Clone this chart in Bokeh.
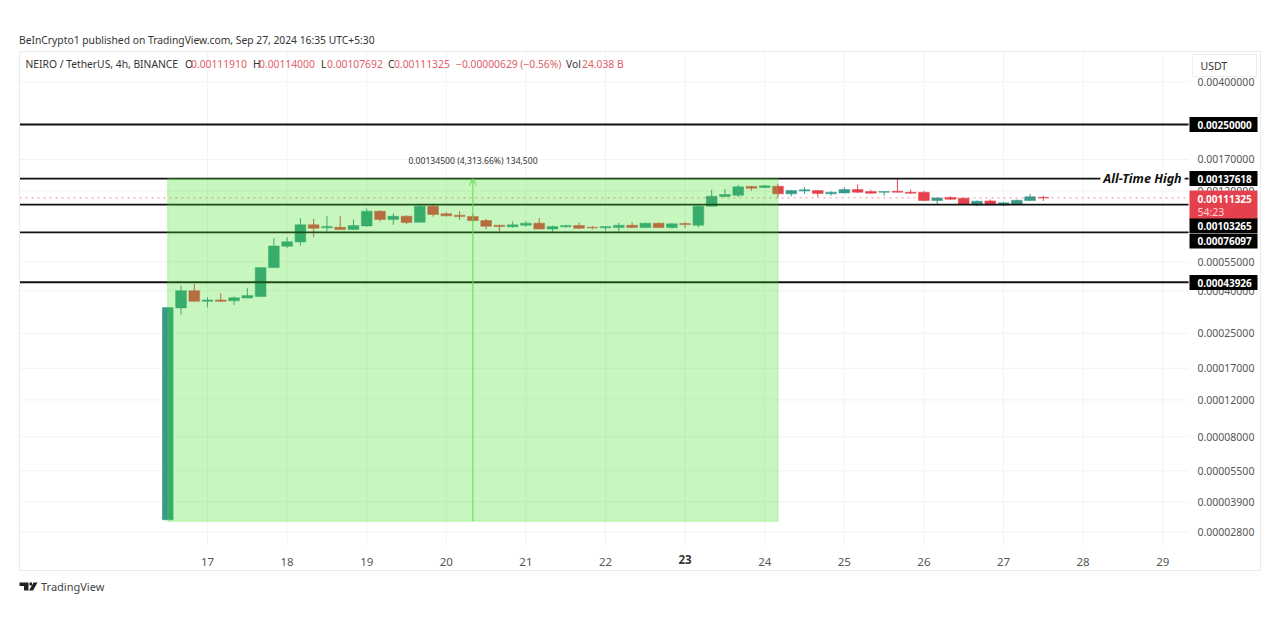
from bokeh.embed import file_html
from bokeh.resources import INLINE
from bokeh.plotting import figure
from bokeh.models import (ColumnDataSource, FixedTicker, PrintfTickFormatter, Range1d, Label, LinearAxis, LogAxis,
                          BoxAnnotation, PolyAnnotation, Arrow, OpenHead)

# ---- data (prices in millionths of a USDT, one 4h candle per entry) ----
opens = [32,331,400,356,361,358,369,375,516,653,685,827,800,805,785,817,961,877,909,851,1015,934,919,906,867,823,809,823,842,790,809,820,805,800,802,823,802,842,802,839,823,1015,1130,1146,1261,1248,1265,1164,1202,1206,1164,1176,1220,1193,1185,1197,1185,1185,1081,1118,1109,1031,1077,1031,1038,1081,1119]
highs = [332,423,432,372,389,375,412,516,713,721,890,884,909,909,877,990,971,940,919,1042,1042,950,961,937,884,829,858,860,890,820,827,848,817,814,845,851,848,848,842,851,1023,1216,1229,1284,1271,1285,1298,1216,1252,1216,1197,1248,1289,1216,1193,1372,1220,1202,1121,1133,1118,1081,1093,1061,1093,1164,1140]
lows = [32,307,354,333,352,342,369,373,516,641,660,721,770,785,785,809,858,827,836,851,906,909,874,858,787,768,800,811,787,768,802,790,787,773,770,800,798,798,793,800,805,1012,1122,1122,1206,1243,1118,1133,1164,1126,1142,1168,1176,1164,1142,1180,1164,1077,1038,1089,1031,1015,1029,1015,1035,1077,1077]
closes = [332,400,356,361,356,370,379,516,655,687,827,796,811,785,820,961,877,909,848,1015,927,913,906,867,814,811,827,842,790,811,820,796,800,811,823,802,842,802,836,829,1015,1133,1155,1257,1238,1271,1164,1206,1216,1168,1185,1220,1185,1172,1193,1185,1172,1081,1113,1097,1038,1073,1031,1054,1085,1126,1113]

first_day = 16.5
bars_per_day = 6
day_ticks = [17, 18, 19, 20, 21, 22, 23, 24, 25, 26, 27, 28, 29]
price_ticks = [0.004, 0.0017, 0.0012, 0.00055, 0.0004, 0.00025, 0.00017, 0.00012, 0.00008, 0.000055, 0.000039, 0.000028]
level_prices = [0.0025, 0.00137618, 0.00103265, 0.00076097, 0.00043926]
level_labels = ["0.00250000", "0.00137618", "0.00103265", "0.00076097", "0.00043926"]
last_price = 0.00111325
zone_top = 0.00137618
zone_bottom = 0.0000315
zone_start = 16.5
zone_end = 24.167

UP, DOWN = "#36998a", "#e5404d"
FONT = "Noto Sans"
TXT = "#555555"
GRID = "#f3f3f3"

W, H = 1272, 616
XMIN, XMAX = 14.399, 30.379       # whole canvas
YMIN, YMAX = 0.00001102, 0.00981
X0, X1 = 14.638, 29.324           # chart pane
Y0, Y1 = 0.0000241, 0.00559

p = figure(width=W, height=H, output_backend="svg", toolbar_location=None,
           y_axis_type="log", x_axis_location=None, y_axis_location=None,
           x_range=Range1d(XMIN, XMAX), y_range=Range1d(YMIN, YMAX),
           min_border=0)
p.outline_line_color = None
p.background_fill_color = "white"
p.border_fill_color = "white"
p.center = []

# grid lines, limited to the chart pane
p.segment(x0=day_ticks, x1=day_ticks, y0=[Y0] * len(day_ticks), y1=[Y1] * len(day_ticks), line_color=GRID, line_width=1)
p.segment(x0=[X0] * len(price_ticks), x1=[X1] * len(price_ticks), y0=price_ticks, y1=price_ticks, line_color=GRID, line_width=1)

xax = LinearAxis(fixed_location=Y0, ticker=FixedTicker(ticks=day_ticks),
                 major_label_overrides={23: " "}, major_label_standoff=8)
yax = LogAxis(fixed_location=X1, ticker=FixedTicker(ticks=price_ticks),
              formatter=PrintfTickFormatter(format="%.8f"), major_label_standoff=9)
for ax, size, side in ((xax, "11.5px", "below"), (yax, "10.5px", "right")):
    ax.axis_line_color = None
    ax.major_tick_line_color = None
    ax.minor_tick_line_color = None
    ax.major_tick_in = 0
    ax.major_tick_out = 0
    ax.major_label_text_color = TXT
    ax.major_label_text_font = FONT
    ax.major_label_text_font_size = size
    p.add_layout(ax, side)

# candles
n = len(opens)
src = ColumnDataSource(dict(
    x=[first_day + i / bars_per_day for i in range(n)],
    o=[v / 1e6 for v in opens], h=[v / 1e6 for v in highs],
    l=[v / 1e6 for v in lows], c=[v / 1e6 for v in closes],
    col=[UP if c >= o else DOWN for o, c in zip(opens, closes)],
))
src.data["top"] = [max(a, b) for a, b in zip(src.data["o"], src.data["c"])]
src.data["bot"] = [min(a, b) for a, b in zip(src.data["o"], src.data["c"])]
p.segment("x", "h", "x", "l", source=src, line_color="col", line_width=1)
p.vbar("x", width=0.135, top="top", bottom="bot", source=src, fill_color="col", line_color="col", line_width=0.5)

# levels
p.segment(x0=[X0] * 5, x1=[X1] * 5, y0=level_prices, y1=level_prices, line_color="#111111", line_width=1.8)

# last price line
p.segment(x0=[X0], x1=[X1], y0=[last_price], y1=[last_price], line_color=DOWN, line_alpha=0.6,
          line_dash="dotted", line_width=1)

# long-position zone
p.quad(left=[zone_start], right=[zone_end], top=[zone_top], bottom=[zone_bottom],
       fill_color="#3fe020", fill_alpha=0.29, line_color="#3fe020", line_alpha=0.3)
mid = (zone_start + zone_end) / 2
p.add_layout(Arrow(x_start=mid, x_end=mid, y_start=zone_bottom, y_end=zone_top, line_color="#5fdc4a", line_width=1,
                   end=OpenHead(size=7, line_color="#5fdc4a", line_width=1)))


def txt(x, y, text, color=TXT, size="10.5px", style="normal", align="left", **kw):
    p.add_layout(Label(x=x, y=y, x_units="canvas", y_units="canvas", text=text, text_color=color,
                       text_font=FONT, text_font_size=size, text_font_style=style, text_align=align,
                       text_baseline="middle", **kw))


def box(l, r, t, b, fill, line=None):
    p.add_layout(BoxAnnotation(left=l, right=r, top=t, bottom=b, left_units="canvas",
                               right_units="canvas", top_units="canvas", bottom_units="canvas",
                               fill_color=fill, fill_alpha=1 if fill else 0, line_color=line, line_alpha=1 if line else 0,
                               line_width=1, level="annotation"))


# outer border
box(19, 1260, 51, 570, None, "#ebebeb")

# header
HEAD = "10.3px"
txt(18.5, 39, "BeInCrypto1 published on TradingView.com, Sep 27, 2024 16:35 UTC+5:30", color="#333333", size=HEAD)
LEG = "#e0606a"
txt(25, 63, "NEIRO / TetherUS, 4h, BINANCE", color="#333333", size=HEAD)
for lx, lt, vx, vt in [(184.5, "O", 190.5, "0.00111910"), (252.5, "H", 258.5, "0.00114000"),
                       (320.5, "L", 326.5, "0.00107692"), (387.5, "C", 393.5, "0.00111325")]:
    txt(lx, 63, lt, color="#333333", size=HEAD)
    txt(vx, 63, vt, color=LEG, size=HEAD)
txt(455.5, 63, "\u22120.00000629 (\u22120.56%)", color=LEG, size=HEAD)
txt(565.5, 63, "Vol", color="#333333", size=HEAD)
txt(581.5, 63, "24.038 B", color=LEG, size=HEAD)

# USDT button
box(1192, 1256, 54, 76, "white", "#efefef")
txt(1200, 65, "USDT", color="#333333", size="10.5px")

# price tags
tag_y = [124, 178, 225, 240.5, 282]
for y, t in zip(tag_y, level_labels):
    box(1189, 1257, y - 7.5, y + 7.5, "black")
    txt(1197, y, t, color="white", style="bold", size="10px")
box(1189, 1257, 190, 218, "#e5404d")
txt(1197, 198, "0.00111325", color="white", style="bold", size="10px")
txt(1197, 211, "54:23", color="#ffd0d4", size="10.5px")

# annotations
txt(1142, 177.5, "All-Time High", color="#111111", size="12.5px", style="bold italic", align="center",
    background_fill_color="white", background_fill_alpha=1, padding=3)
txt(472.5, 160, "0.00134500 (4,313.66%) 134,500", color="#333333", size="8.6px", align="center")
txt(684.6, 559, "23", color="#333333", size="11.5px", style="bold", align="center")

# footer logo + word mark
LOGO = "#222222"
for xs, ys in [([19, 28, 28, 23.5, 23.5, 19], [582, 582, 590, 590, 585.5, 585.5]),
               ([33, 37, 32.5, 28.5], [582, 582, 590, 590]),
               ([29, 31.5, 31.5, 29], [582, 582, 585, 585])]:
    p.add_layout(PolyAnnotation(xs=xs, ys=ys, xs_units="canvas", ys_units="canvas",
                                fill_color=LOGO, fill_alpha=1, line_color=None))
txt(40.5, 586, "TradingView", color="#444444", size="11px")

open("out.html", "w").write(file_html(p, INLINE))
